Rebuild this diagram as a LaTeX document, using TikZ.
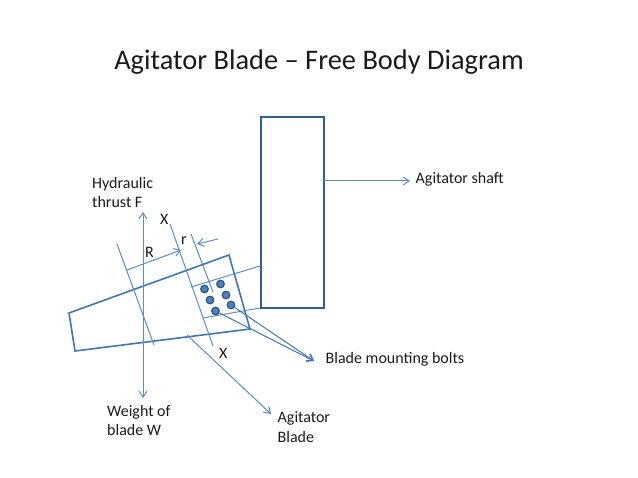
\documentclass[tikz,border=0pt]{standalone}
\usepackage{fontspec}
\setmainfont{Carlito}
\usetikzlibrary{arrows.meta}
\definecolor{thinb}{HTML}{5B8CC4}
\definecolor{midb}{HTML}{3F75B5}
\definecolor{darkb}{HTML}{2F5F96}
\definecolor{boltf}{HTML}{4F81BD}
\definecolor{boltd}{HTML}{2A5486}
\definecolor{txt}{HTML}{1A1A1A}
\tikzset{
  thinline/.style={draw=thinb,line width=1pt},
  arrowline/.style={thinline,-{Straight Barb[length=6pt,width=8pt]}},
  twoway/.style={thinline,{Straight Barb[length=6pt,width=8pt]}-{Straight Barb[length=6pt,width=8pt]}},
  bladeline/.style={draw=midb,line width=1.6pt,line join=miter},
  shaftbox/.style={draw=darkb,line width=2pt,minimum width=63pt,minimum height=191pt,inner sep=0pt,anchor=north west},
  bolt/.style={circle,draw=boltd,fill=boltf,line width=1.2pt,minimum size=7.6pt,inner sep=0pt},
  lbl/.style={font=\fontsize{16}{19.5}\selectfont,text=txt,align=left,inner sep=0pt,anchor=north west},
  ttl/.style={font=\fontsize{28.4}{32}\selectfont,text=txt,inner sep=0pt}
}
\begin{document}
\begin{tikzpicture}[x=1pt,y=-1pt]
\useasboundingbox (0,0) rectangle (638,478);
\node[ttl] (title) at (319,62) {Agitator Blade – Free Body Diagram};
\node[shaftbox] (shaft) at (260,116) {};
\coordinate (b1) at (69,313);
\coordinate (b2) at (75,351);
\coordinate (b3) at (250,329);
\coordinate (b4) at (229,255);
\draw[bladeline] (b1) -- (b2) -- (b3) -- (b4) -- cycle;
% reference lines
\coordinate (ra) at (117,244); \coordinate (rb) at (154,345);
\coordinate (xa) at (170,224); \coordinate (xb) at (213,346);
\coordinate (sa) at (191,234); \coordinate (sb) at (213,292);
\draw[thinline] (ra) -- (rb);
\draw[thinline] (xa) -- (xb);
\draw[thinline] (sa) -- (sb);
\coordinate (ft1) at (191,287); \coordinate (ft2) at (260,266);
\coordinate (fb1) at (203,318); \coordinate (fb2) at (260,308);
\draw[thinline] (ft1) -- (ft2);
\draw[thinline] (fb1) -- (fb2);
% bolts
\node[bolt] (p1) at (204.5,289) {};
\node[bolt] (p2) at (220.5,284) {};
\node[bolt] (p3) at (210,300) {};
\node[bolt] (p4) at (226,295) {};
\node[bolt] (p5) at (215.5,311) {};
\node[bolt] (p6) at (231,305) {};
% labels
\node[lbl] (hyd) at (92,177) {Hydraulic\\thrust F};
\node[lbl] (lx1) at (160,214.5) {X};
\node[lbl] (lr) at (181,237) {r};
\node[lbl] (lR) at (145,247) {R};
\node[lbl] (lx2) at (219,348) {X};
\node[lbl] (wt) at (107,405) {Weight of\\blade W};
\node[lbl] (agb) at (277.5,411.5) {Agitator\\Blade};
\node[lbl] (bmb) at (325.5,352.5) {Blade mounting bolts};
\node[lbl] (ags) at (415.5,172) {Agitator shaft};
% arrows
\coordinate (v1) at (143,212); \coordinate (v2) at (143,398);
\draw[twoway] (v1) -- (v2);
\coordinate (R1) at (127,270); \coordinate (R2) at (181,250);
\draw[arrowline] (R1) -- (R2);
\coordinate (s1) at (218,239); \coordinate (s2) at (197,244);
\draw[arrowline] (s1) -- (s2);
\coordinate (sh1) at (324,181); \coordinate (sh2) at (410,181);
\draw[arrowline] (sh1) -- (sh2);
\coordinate (bl1) at (187,335); \coordinate (bl2) at (271,414);
\draw[arrowline] (bl1) -- (bl2);
\coordinate (m) at (314,361);
\draw[arrowline,draw=midb] (p5) -- (m);
\draw[arrowline,draw=midb] (p6) -- (m);
\end{tikzpicture}
\end{document}
